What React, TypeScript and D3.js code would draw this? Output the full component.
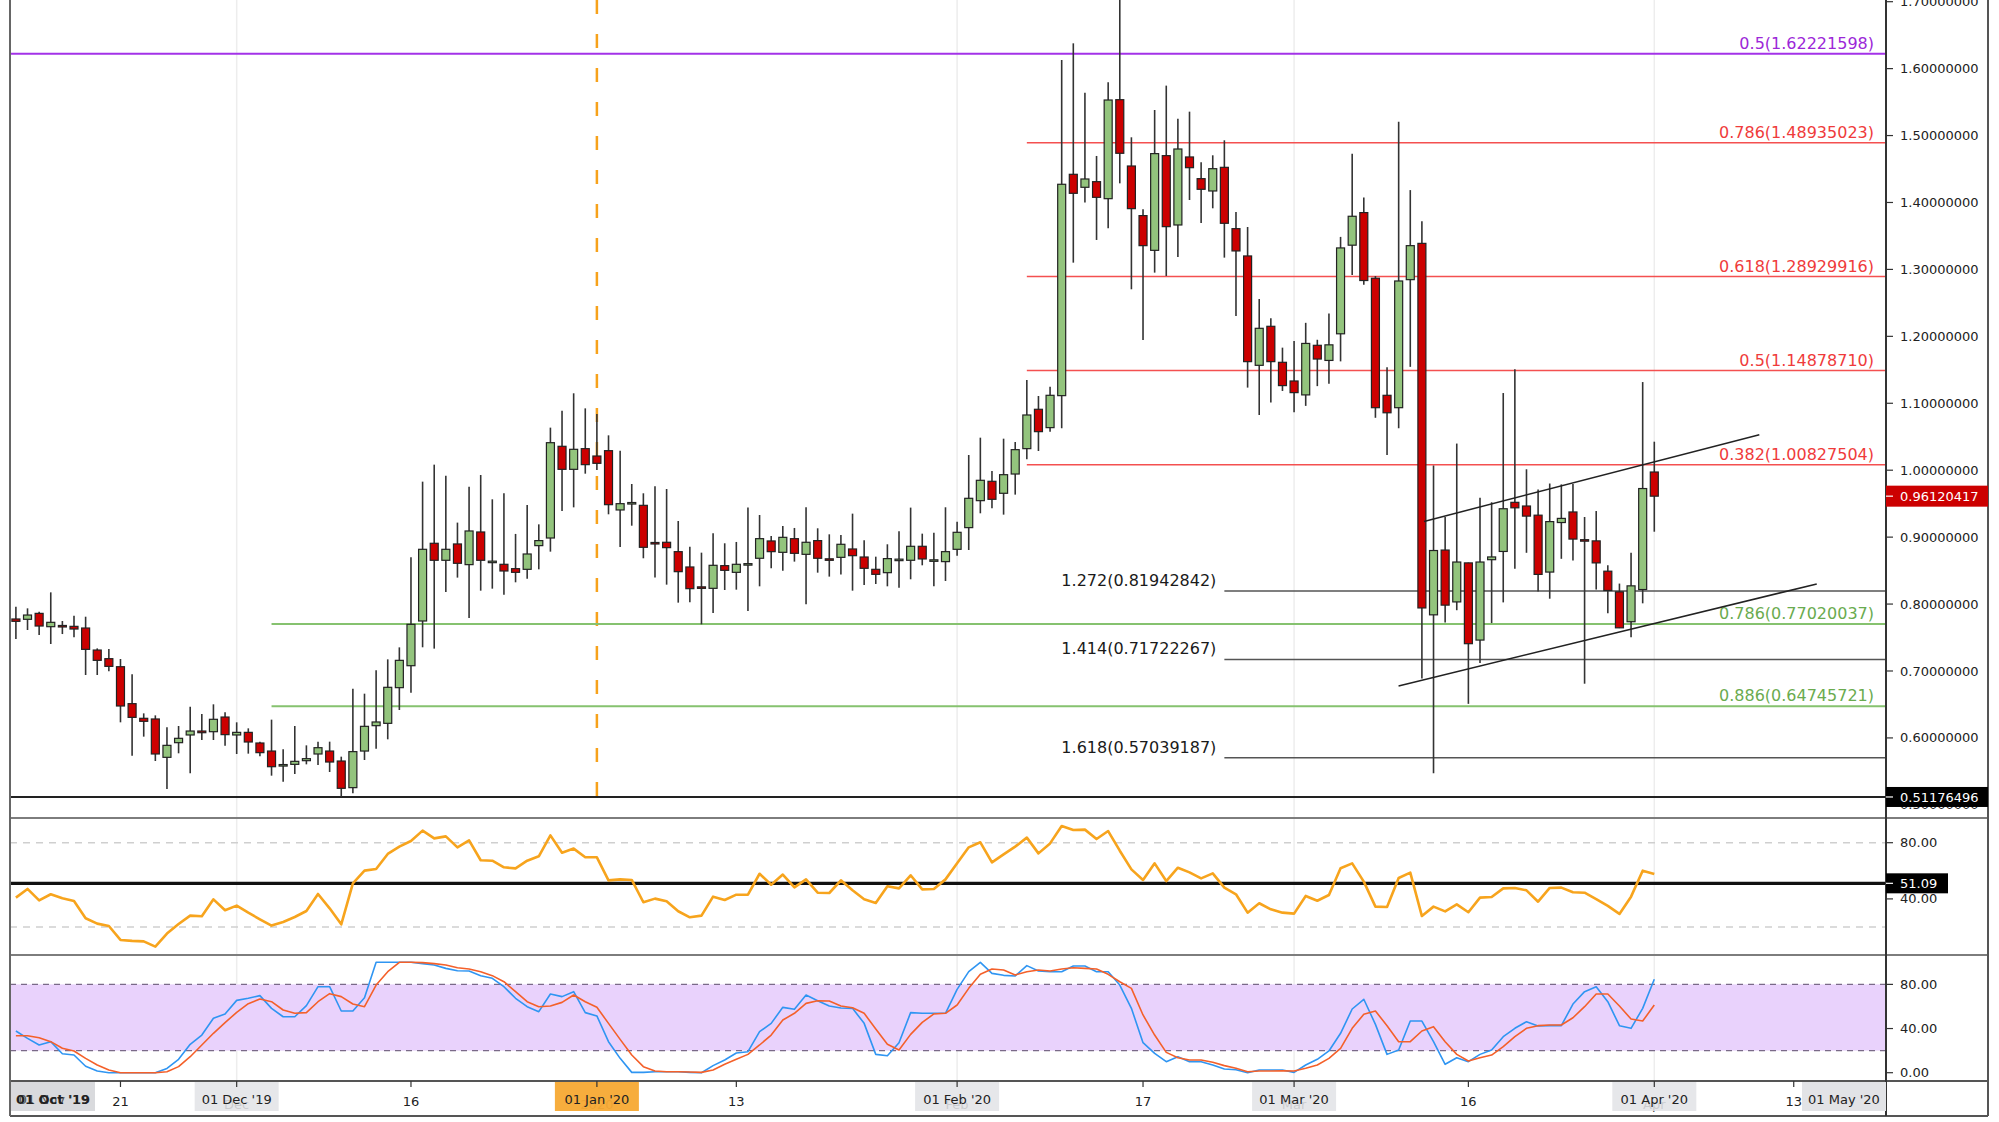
import React from "react";
import * as d3 from "d3";

// ---------- DATA ----------
const START = Date.UTC(2019, 10, 12); // first candle: 12 Nov 2019, daily to 01 Apr 2020

const opens = [
  0.7777, 0.7772, 0.7861, 0.7662, 0.7680, 0.7667, 0.7642, 0.7313, 0.7184, 0.7064,
  0.6512, 0.6293, 0.6283, 0.5710, 0.5929, 0.6044, 0.6103, 0.6093, 0.6312, 0.6044,
  0.6083, 0.5924, 0.5804, 0.5600, 0.5605, 0.5660, 0.5760, 0.5804, 0.5655, 0.5257,
  0.5804, 0.6183, 0.6218, 0.6751, 0.7079, 0.7747, 0.8908, 0.8654, 0.8898, 0.8589,
  0.9077, 0.8639, 0.8594, 0.8529, 0.8519, 0.8873, 0.8987, 1.0357, 1.0013, 1.0322,
  1.0212, 1.0292, 0.9406, 0.9515, 0.9475, 0.8920, 0.8923, 0.8783, 0.8554, 0.8257,
  0.8235, 0.8574, 0.8474, 0.8602, 0.8684, 0.8943, 0.8773, 0.8977, 0.8743, 0.8948,
  0.8676, 0.8698, 0.8823, 0.8703, 0.8519, 0.8469, 0.8669, 0.8654, 0.8863, 0.8659,
  0.8634, 0.8818, 0.9142, 0.9545, 0.9834, 0.9655, 0.9943, 1.0322, 1.0910, 1.0636,
  1.1114, 1.4421, 1.4227, 1.4311, 1.4057, 1.5536, 1.4545, 1.3804, 1.3285, 1.4700,
  1.3664, 1.4680, 1.4356, 1.4172, 1.4525, 1.3609, 1.3201, 1.1567, 1.2150, 1.1612,
  1.1333, 1.1125, 1.1866, 1.1640, 1.2038, 1.3362, 1.3849, 1.2868, 1.1119, 1.0934,
  1.2847, 1.3389, 0.7839, 0.8807, 0.8032, 0.8615, 0.7462, 0.8663, 0.8786, 0.9520,
  0.9465, 0.9328, 0.8478, 0.9218, 0.9376, 0.8962, 0.8944, 0.8491, 0.8182, 0.7736,
  0.8217, 0.9973,
];
const highs = [
  0.7961, 0.7936, 0.7886, 0.8175, 0.7747, 0.7826, 0.7811, 0.7338, 0.7328, 0.7179,
  0.6950, 0.6367, 0.6337, 0.6158, 0.6178, 0.6467, 0.6357, 0.6502, 0.6382, 0.6233,
  0.6143, 0.5944, 0.6273, 0.5829, 0.6178, 0.5889, 0.5944, 0.5944, 0.5720, 0.6736,
  0.6661, 0.7010, 0.7174, 0.7353, 0.8698, 0.9829, 1.0083, 0.9918, 0.9217, 0.9754,
  0.9928, 0.9565, 0.9654, 0.9048, 0.9480, 0.9191, 1.0636, 1.0890, 1.1149, 1.0924,
  1.0840, 1.0521, 1.0292, 0.9794, 0.9655, 0.9759, 0.9719, 0.9241, 0.8858, 0.8768,
  0.9057, 0.8908, 0.8928, 0.9441, 0.9331, 0.9017, 0.9167, 0.9137, 0.9446, 0.9132,
  0.9042, 0.9032, 0.9351, 0.8953, 0.8708, 0.8893, 0.9087, 0.9441, 0.9052, 0.9067,
  0.9446, 0.9231, 1.0227, 1.0486, 0.9988, 1.0471, 1.0421, 1.1348, 1.1109, 1.1248,
  1.6129, 1.6378, 1.5641, 1.4695, 1.5795, 1.7500, 1.4974, 1.3898, 1.5382, 1.5746,
  1.5252, 1.5357, 1.4600, 1.4705, 1.4929, 1.3858, 1.3634, 1.2558, 1.2270, 1.1831,
  1.1931, 1.2202, 1.1949, 1.2340, 1.3486, 1.4727, 1.4075, 1.2902, 1.1537, 1.5207,
  1.4185, 1.3719, 1.0069, 0.9301, 1.0398, 0.8620, 0.9589, 0.9521, 1.1153, 1.1510,
  1.0014, 0.9712, 0.9801, 0.9788, 0.9795, 0.9301, 0.9390, 0.8580, 0.8306, 0.8766,
  1.1317, 1.0426,
];
const lows = [
  0.7478, 0.7612, 0.7537, 0.7403, 0.7552, 0.7503, 0.6940, 0.6940, 0.6995, 0.6233,
  0.5735, 0.6019, 0.5655, 0.5237, 0.5770, 0.5471, 0.5969, 0.5969, 0.5884, 0.5760,
  0.5765, 0.5725, 0.5436, 0.5346, 0.5461, 0.5605, 0.5595, 0.5491, 0.5122, 0.5172,
  0.5670, 0.5839, 0.5979, 0.6417, 0.6676, 0.7354, 0.7334, 0.8180, 0.8395, 0.7792,
  0.8200, 0.8230, 0.8140, 0.8325, 0.8380, 0.8519, 0.8783, 0.9391, 0.9445, 0.9948,
  1.0003, 0.9341, 0.8853, 0.9171, 0.8684, 0.8395, 0.8290, 0.8021, 0.8026, 0.7697,
  0.7867, 0.8210, 0.8215, 0.7897, 0.8265, 0.8534, 0.8499, 0.8634, 0.7996, 0.8469,
  0.8410, 0.8440, 0.8200, 0.8285, 0.8300, 0.8265, 0.8245, 0.8370, 0.8579, 0.8265,
  0.8345, 0.8723, 0.8808, 0.9356, 0.9431, 0.9336, 0.9635, 1.0163, 1.0287, 1.0576,
  1.0626, 1.3101, 1.3998, 1.3440, 1.3614, 1.4286, 1.2703, 1.1946, 1.2952, 1.2902,
  1.3186, 1.4037, 1.3694, 1.3913, 1.3176, 1.2304, 1.1234, 1.0825, 1.1010, 1.1184,
  1.0865, 1.0961, 1.1256, 1.1290, 1.1626, 1.2916, 1.2772, 1.0783, 1.0227, 1.0625,
  1.1544, 0.6886, 0.5473, 0.7723, 0.7908, 0.6509, 0.7119, 0.7716, 0.8025, 0.8526,
  0.8766, 0.8189, 0.8080, 0.8676, 0.8649, 0.6810, 0.8217, 0.7861, 0.7641, 0.7503,
  0.8011, 0.9081,
];
const closes = [
  0.7742, 0.7836, 0.7672, 0.7727, 0.7675, 0.7627, 0.7323, 0.7159, 0.7069, 0.6477,
  0.6307, 0.6248, 0.5760, 0.5889, 0.5994, 0.6103, 0.6078, 0.6278, 0.6049, 0.6083,
  0.5939, 0.5780, 0.5570, 0.5602, 0.5650, 0.5690, 0.5854, 0.5640, 0.5247, 0.5795,
  0.6173, 0.6238, 0.6756, 0.7159, 0.7697, 0.8818, 0.8654, 0.8818, 0.8609, 0.9092,
  0.8654, 0.8641, 0.8494, 0.8474, 0.8748, 0.8948, 1.0411, 1.0013, 1.0312, 1.0083,
  1.0103, 0.9485, 0.9500, 0.9517, 0.8848, 0.8918, 0.8843, 0.8484, 0.8230, 0.8255,
  0.8579, 0.8504, 0.8594, 0.8604, 0.8977, 0.8783, 0.8997, 0.8758, 0.8923, 0.8684,
  0.8674, 0.8893, 0.8723, 0.8534, 0.8444, 0.8679, 0.8671, 0.8863, 0.8674, 0.8661,
  0.8783, 0.9072, 0.9580, 0.9849, 0.9565, 0.9933, 1.0307, 1.0825, 1.0576, 1.1119,
  1.4272, 1.4137, 1.4351, 1.4077, 1.5531, 1.4735, 1.3908, 1.3355, 1.4730, 1.3639,
  1.4799, 1.4520, 1.4197, 1.4505, 1.3689, 1.3276, 1.1622, 1.2120, 1.1622, 1.1264,
  1.1159, 1.1894, 1.1661, 1.1873, 1.3321, 1.3794, 1.2834, 1.0934, 1.0858, 1.2827,
  1.3355, 0.7942, 0.8800, 0.7984, 0.8628, 0.7408, 0.8628, 0.8704, 0.9424, 0.9438,
  0.9314, 0.8443, 0.9232, 0.9280, 0.8971, 0.8958, 0.8615, 0.8203, 0.7645, 0.8272,
  0.9726, 0.96120417,
];

const rsi = [
  40.9, 47.1, 39.0, 43.3, 40.4, 38.5, 26.2, 22.4, 20.7, 10.8,
  10.1, 9.8, 6.0, 15.3, 22.1, 28.1, 27.6, 39.7, 31.9, 35.2,
  30.2, 25.5, 21.0, 23.6, 27.1, 31.4, 43.5, 33.3, 21.9, 51.1,
  60.1, 61.3, 72.0, 77.2, 81.2, 88.6, 83.1, 84.5, 76.7, 81.7,
  67.5, 67.2, 62.5, 61.7, 67.2, 70.3, 85.2, 72.9, 75.8, 69.6,
  69.6, 53.2, 53.9, 53.5, 37.6, 40.2, 38.3, 31.2, 26.9, 28.1,
  41.6, 39.2, 43.0, 43.0, 57.9, 50.1, 57.3, 48.2, 53.9, 44.4,
  44.2, 53.2, 46.1, 39.7, 37.1, 49.0, 47.5, 56.8, 46.8, 47.1,
  53.9, 65.3, 76.7, 80.3, 66.0, 71.7, 77.2, 83.6, 72.4, 79.5,
  91.9, 89.0, 89.3, 82.6, 88.3, 74.3, 61.0, 53.5, 65.3, 52.7,
  62.2, 58.9, 54.6, 58.2, 48.0, 43.3, 30.2, 36.9, 32.6, 30.2,
  29.5, 42.1, 38.7, 42.8, 61.8, 65.3, 52.3, 34.5, 34.2, 54.9,
  58.7, 27.8, 34.5, 31.1, 36.1, 30.5, 40.9, 41.4, 47.5, 47.8,
  46.1, 38.0, 47.8, 48.0, 44.7, 44.4, 39.9, 35.0, 29.3, 41.6,
  60.1, 57.7,
];
const stochK = [
  37.8, 31.1, 25.1, 28.1, 17.2, 16.0, 5.8, 1.5, 0, 0,
  0, 0, 0, 3.9, 12.1, 25.7, 34.1, 49.3, 53.2, 65.5,
  67.4, 69.8, 58.3, 50.7, 50.7, 60.7, 77.9, 77.9, 55.9, 55.9,
  67.9, 100, 100, 100, 100, 98.8, 97.5, 94.5, 92.4, 92.1,
  87.9, 85.5, 77.9, 67.4, 59.8, 55.3, 71.3, 68.9, 73.4, 54.4,
  51.4, 28.1, 13.0, 0.3, 0.3, 0.9, 0.9, 0.9, 0.3, 0,
  6.4, 11.5, 17.8, 19.0, 37.2, 44.7, 59.2, 57.4, 70.4, 65.2,
  60.4, 58.6, 58.3, 44.7, 16.6, 15.4, 27.2, 54.4, 53.8, 53.8,
  53.8, 75.5, 91.5, 100, 90.0, 88.2, 87.6, 97.0, 92.1, 91.5,
  91.5, 96.6, 96.6, 91.5, 91.5, 79.4, 58.3, 27.2, 17.5, 10.0,
  14.5, 10.0, 10.0, 7.0, 3.3, 2.7, 0, 2.4, 2.4, 2.4,
  0.3, 7.0, 12.1, 19.7, 35.7, 57.7, 66.5, 43.8, 16.6, 20.6,
  46.8, 46.8, 28.1, 7.6, 13.6, 10.0, 16.6, 20.6, 32.6, 40.2,
  46.2, 42.3, 42.6, 42.6, 62.2, 73.4, 77.9, 64.3, 42.6, 40.2,
  58.3, 84.6,
];
const stochD = [
  33.5, 33.5, 31.7, 28.1, 22.1, 19.7, 13.0, 7.0, 2.4, 0,
  0, 0, 0, 0.9, 5.5, 14.5, 25.1, 35.7, 45.3, 54.7,
  62.5, 66.7, 64.3, 56.8, 53.8, 54.4, 64.3, 71.6, 68.9, 62.2,
  59.8, 79.4, 91.5, 100, 100, 99.7, 98.8, 97.5, 95.1, 93.9,
  91.5, 87.9, 82.4, 73.4, 64.3, 59.8, 60.4, 63.7, 70.4, 64.3,
  59.2, 44.7, 30.2, 16.0, 5.5, 1.5, 0.9, 0.9, 0.6, 0.3,
  2.4, 7.6, 12.1, 16.6, 25.1, 34.1, 47.7, 53.8, 62.8, 65.2,
  64.9, 60.4, 58.9, 53.8, 39.6, 25.7, 20.6, 34.7, 45.6, 53.2,
  53.8, 61.3, 76.4, 89.1, 93.9, 93.0, 88.5, 91.5, 93.0, 92.1,
  93.9, 95.1, 94.5, 93.9, 89.1, 82.4, 76.4, 52.3, 34.1, 18.4,
  13.6, 11.5, 11.5, 9.4, 6.4, 4.0, 0.9, 1.5, 1.5, 1.8,
  1.5, 4.0, 7.0, 13.0, 22.1, 40.2, 52.9, 55.9, 42.6, 28.1,
  28.1, 37.8, 41.7, 28.1, 16.6, 10.6, 13.6, 16.0, 23.6, 32.6,
  40.2, 42.6, 43.2, 43.2, 49.8, 59.8, 71.3, 71.3, 60.4, 48.6,
  46.8, 61.3,
];

const priceTicks = [0.5, 0.6, 0.7, 0.8, 0.9, 1.0, 1.1, 1.2, 1.3, 1.4, 1.5, 1.6, 1.7];
const rsiTicks = [80, 40];
const stochTicks = [80, 40, 0];
const rsiLevel = 51.09;
const lastPrice = 0.96120417;
const lowLine = 0.51176496;

const purpleFibRatios = ["0.5"];
const purpleFibValues = [1.62221598];
const redFibRatios = ["0.786", "0.618", "0.5", "0.382"];
const redFibValues = [1.48935023, 1.28929916, 1.1487871, 1.00827504];
const blackFibRatios = ["1.272", "1.414", "1.618"];
const blackFibValues = [0.81942842, 0.71722267, 0.57039187];
const greenFibRatios = ["0.786", "0.886"];
const greenFibValues = [0.77020037, 0.64745721];
const redFibStart = 87;
const blackFibStart = 104;
const greenFibStart = 22;

// trend channel: [candle index, price]
const channelUpper = [[121.18, 0.9235], [150.04, 1.053]];
const channelLower = [[118.99, 0.6777], [154.98, 0.8301]];

const dayTickDates = ["2019-11-21", "2019-12-16", "2020-01-13", "2020-02-17", "2020-03-16", "2020-04-13"];
const dayTickLabels = ["21", "16", "13", "17", "16", "13"];
const monthTickDates = ["2019-12-01", "2020-01-01", "2020-02-01", "2020-03-01", "2020-04-01"];
const monthTickLabels = ["01 Dec '19", "01 Jan '20", "01 Feb '20", "01 Mar '20", "01 Apr '20"];
const monthGhostLabels = ["Dec", "2020", "Feb", "Mar", "Apr"];
const edgeLeftDates = ["2019-10-01", "2019-11-01"];
const edgeLeftLabels = ["01 Oct '19", "01 Nov '19"];
const edgeRightDate = "2020-05-01";
const edgeRightLabel = "01 May '20";
const jan1 = "2020-01-01";

// ---------- LAYOUT ----------
const W = 1999;
const H = 1122;
const LEFT = 10;
const AXIS_X = 1886;
const RIGHT = 1988;
const MAIN_TOP = 0;
const MAIN_BOTTOM = 818;
const RSI_BOTTOM = 955;
const ST_BOTTOM = 1081;
const BOTTOM = 1116;
const FONT = "DejaVu Sans, Verdana, sans-serif";

const N = opens.length;
const xIdx = d3.scaleLinear().domain([0, N - 1]).range([15.9, 1654.3]);
const y = d3.scaleLinear().domain([0.48035, 1.70253]).range([MAIN_BOTTOM, MAIN_TOP]);
const yR = d3.scaleLinear().domain([0, 100]).range([955.1, 814.6]);
const yS = d3.scaleLinear().domain([0, 100]).range([1072.7, 962.3]);

const parseDay = (s: string) => {
  const [a, b, c] = s.split("-").map(Number);
  return new Date(Date.UTC(a, b - 1, c));
};
const dateX = (s: string) => xIdx(d3.utcDay.count(new Date(START), parseDay(s)));

export default function App() {
  const rsiLine = d3.line<number>().x((_, i) => xIdx(i)).y((v) => yR(v))(rsi) || "";
  const kLine = d3.line<number>().x((_, i) => xIdx(i)).y((v) => yS(v))(stochK) || "";
  const dLine = d3.line<number>().x((_, i) => xIdx(i)).y((v) => yS(v))(stochD) || "";

  const fibLabel = (ratio: string, val: number) => `${ratio}(${val.toFixed(8)})`;
  const boxW = 84;
  const leftBoxX = Math.max(LEFT + 1, dateX(edgeLeftDates[0]) - boxW / 2);
  const rightBoxX = Math.min(AXIS_X, dateX(edgeRightDate) + boxW / 2) - boxW;
  const FIB_FS = 16;

  return (
    <div style={{ position: "absolute", left: 0, top: 0 }}>
      <svg width={W} height={H} style={{ display: "block", background: "#fff" }} fontFamily={FONT}>
        <defs>
          <clipPath id="mainClip">
            <rect x={LEFT} y={MAIN_TOP} width={AXIS_X - LEFT} height={MAIN_BOTTOM - MAIN_TOP} />
          </clipPath>
          <clipPath id="lowerClip">
            <rect x={LEFT} y={MAIN_BOTTOM} width={AXIS_X - LEFT} height={ST_BOTTOM - MAIN_BOTTOM} />
          </clipPath>
        </defs>

        {/* vertical month gridlines */}
        {monthTickDates.filter((d) => d !== jan1).map((d) => (
          <line key={d} x1={dateX(d)} x2={dateX(d)} y1={MAIN_TOP} y2={ST_BOTTOM} stroke="#ededed" strokeWidth={1.5} />
        ))}

        {/* stoch band */}
        <rect x={LEFT} y={yS(80)} width={AXIS_X - LEFT} height={yS(20) - yS(80)} fill="#e9d2fc" />
        {[80, 20].map((v) => (
          <line key={"sd" + v} x1={LEFT} x2={AXIS_X} y1={yS(v)} y2={yS(v)} stroke="#7a6a88" strokeWidth={1.3} strokeDasharray="6 5" />
        ))}
        {[80, 20].map((v) => (
          <line key={"rd" + v} x1={LEFT} x2={AXIS_X} y1={yR(v)} y2={yR(v)} stroke="#cfcfcf" strokeWidth={1.6} strokeDasharray="7 6" />
        ))}

        <g clipPath="url(#mainClip)">
          {/* Jan 1 dashed orange line */}
          <line x1={dateX(jan1)} x2={dateX(jan1)} y1={MAIN_TOP} y2={MAIN_BOTTOM - 10} stroke="#f7a21b" strokeWidth={2.5} strokeDasharray="14 20" />

          {/* fib levels */}
          {purpleFibValues.map((v, i) => (
            <g key={"p" + i}>
              <line x1={LEFT} x2={AXIS_X} y1={y(v)} y2={y(v)} stroke="#a332e8" strokeWidth={2} />
              <text x={1874} y={y(v) - 5} textAnchor="end" fontSize={FIB_FS} fill="#9c27d8">{fibLabel(purpleFibRatios[i], v)}</text>
            </g>
          ))}
          {redFibValues.map((v, i) => (
            <g key={"r" + i}>
              <line x1={xIdx(redFibStart)} x2={AXIS_X} y1={y(v)} y2={y(v)} stroke="#f45050" strokeWidth={1.5} />
              <text x={1874} y={y(v) - 5} textAnchor="end" fontSize={FIB_FS} fill="#ef3b3b">{fibLabel(redFibRatios[i], v)}</text>
            </g>
          ))}
          {greenFibValues.map((v, i) => (
            <g key={"g" + i}>
              <line x1={xIdx(greenFibStart)} x2={AXIS_X} y1={y(v)} y2={y(v)} stroke="#86c26f" strokeWidth={2} />
              <text x={1874} y={y(v) - 5} textAnchor="end" fontSize={FIB_FS} fill="#6aab4f">{fibLabel(greenFibRatios[i], v)}</text>
            </g>
          ))}
          {blackFibValues.map((v, i) => (
            <g key={"b" + i}>
              <line x1={xIdx(blackFibStart)} x2={AXIS_X} y1={y(v)} y2={y(v)} stroke="#555" strokeWidth={1.5} />
              <text x={xIdx(blackFibStart) - 8} y={y(v) - 5} textAnchor="end" fontSize={FIB_FS} fill="#1a1a1a">{fibLabel(blackFibRatios[i], v)}</text>
            </g>
          ))}

          {/* low horizontal line */}
          <line x1={LEFT} x2={AXIS_X} y1={y(lowLine)} y2={y(lowLine)} stroke="#222" strokeWidth={2} />

          {/* candles */}
          {opens.map((o, i) => {
            const c = closes[i];
            const up = c >= o;
            const cx = xIdx(i);
            const top = y(Math.max(o, c));
            const bot = y(Math.min(o, c));
            const h = Math.max(bot - top, 1.5);
            return (
              <g key={"c" + i}>
                <line x1={cx} x2={cx} y1={y(highs[i])} y2={y(lows[i])} stroke="#333" strokeWidth={1.6} />
                <rect x={cx - 4} y={top} width={8} height={h} fill={up ? "#93c47d" : "#cc0000"} stroke="#222" strokeWidth={1.2} />
              </g>
            );
          })}

          {/* channel */}
          {[channelUpper, channelLower].map((seg, k) => (
            <line key={"ch" + k} x1={xIdx(seg[0][0])} y1={y(seg[0][1])} x2={xIdx(seg[1][0])} y2={y(seg[1][1])} stroke="#222" strokeWidth={1.5} />
          ))}
        </g>

        <g clipPath="url(#lowerClip)">
          {/* RSI */}
          <line x1={LEFT} x2={AXIS_X} y1={yR(rsiLevel)} y2={yR(rsiLevel)} stroke="#111" strokeWidth={3.2} />
          <path d={rsiLine} fill="none" stroke="#f7a41d" strokeWidth={2.6} strokeLinejoin="round" />
          {/* Stoch */}
          <path d={kLine} fill="none" stroke="#2f95f2" strokeWidth={1.6} strokeLinejoin="round" />
          <path d={dLine} fill="none" stroke="#f4602a" strokeWidth={1.6} strokeLinejoin="round" />
        </g>

        {/* pane separators and frame */}
        <line x1={LEFT} x2={RIGHT} y1={MAIN_BOTTOM} y2={MAIN_BOTTOM} stroke="#7d7d7d" strokeWidth={2.2} />
        <line x1={LEFT} x2={RIGHT} y1={RSI_BOTTOM} y2={RSI_BOTTOM} stroke="#7d7d7d" strokeWidth={2.2} />
        <line x1={LEFT} x2={RIGHT} y1={ST_BOTTOM} y2={ST_BOTTOM} stroke="#555" strokeWidth={2} />
        <line x1={LEFT} x2={RIGHT} y1={BOTTOM} y2={BOTTOM} stroke="#555" strokeWidth={2} />
        <line x1={LEFT} x2={LEFT} y1={0} y2={BOTTOM} stroke="#666" strokeWidth={2} />
        <line x1={AXIS_X} x2={AXIS_X} y1={0} y2={BOTTOM} stroke="#333" strokeWidth={2} />
        <line x1={RIGHT} x2={RIGHT} y1={0} y2={BOTTOM} stroke="#555" strokeWidth={2} />

        {/* price axis */}
        {priceTicks.map((p) => (
          <g key={"pt" + p}>
            <line x1={AXIS_X} x2={AXIS_X + 7} y1={y(p)} y2={y(p)} stroke="#333" strokeWidth={1.2} />
            <text x={1900} y={y(p)} dy="0.35em" fontSize={13} fill="#222">{p.toFixed(8)}</text>
          </g>
        ))}
        <rect x={AXIS_X} y={y(lastPrice) - 10.5} width={RIGHT - AXIS_X} height={21} fill="#cc0000" />
        <line x1={AXIS_X} x2={AXIS_X + 7} y1={y(lastPrice)} y2={y(lastPrice)} stroke="#fff" strokeWidth={1.2} />
        <text x={1900} y={y(lastPrice)} dy="0.35em" fontSize={13} fill="#fff">{lastPrice.toFixed(8)}</text>
        <rect x={AXIS_X} y={y(lowLine) - 10} width={RIGHT - AXIS_X} height={20} fill="#000" />
        <line x1={AXIS_X} x2={AXIS_X + 7} y1={y(lowLine)} y2={y(lowLine)} stroke="#fff" strokeWidth={1.2} />
        <text x={1900} y={y(lowLine)} dy="0.35em" fontSize={13} fill="#fff">{lowLine.toFixed(8)}</text>

        {/* RSI axis */}
        {rsiTicks.map((v) => (
          <g key={"rt" + v}>
            <line x1={AXIS_X} x2={AXIS_X + 7} y1={yR(v)} y2={yR(v)} stroke="#333" strokeWidth={1.2} />
            <text x={1900} y={yR(v)} dy="0.35em" fontSize={13} fill="#222">{v.toFixed(2)}</text>
          </g>
        ))}
        <rect x={AXIS_X} y={yR(rsiLevel) - 10} width={62} height={20} fill="#000" />
        <line x1={AXIS_X} x2={AXIS_X + 7} y1={yR(rsiLevel)} y2={yR(rsiLevel)} stroke="#fff" strokeWidth={1.2} />
        <text x={1900} y={yR(rsiLevel)} dy="0.35em" fontSize={13} fill="#fff">{rsiLevel.toFixed(2)}</text>

        {/* Stoch axis */}
        {stochTicks.map((v) => (
          <g key={"st" + v}>
            <line x1={AXIS_X} x2={AXIS_X + 7} y1={yS(v)} y2={yS(v)} stroke="#333" strokeWidth={1.2} />
            <text x={1900} y={yS(v)} dy="0.35em" fontSize={13} fill="#222">{v.toFixed(2)}</text>
          </g>
        ))}

        {/* time axis */}
        {dayTickDates.map((d, i) => (
          <g key={"dt" + d}>
            <line x1={dateX(d)} x2={dateX(d)} y1={ST_BOTTOM} y2={ST_BOTTOM + 6} stroke="#333" strokeWidth={1.2} />
            <text x={dateX(d)} y={1101} dy="0.35em" textAnchor="middle" fontSize={13} fill="#222">{dayTickLabels[i]}</text>
          </g>
        ))}
        {monthTickDates.map((d, i) => {
          const cx = dateX(d);
          const isJan = d === jan1;
          return (
            <g key={"mt" + d}>
              <text x={cx} y={1104} dy="0.35em" textAnchor="middle" fontSize={13} fill="#444">{monthGhostLabels[i]}</text>
              <rect x={cx - 42} y={ST_BOTTOM + 1} width={boxW} height={29} fill={isJan ? "#f7a933" : "#e2e3e6"} opacity={isJan ? 0.95 : 0.85} />
              <line x1={cx} x2={cx} y1={ST_BOTTOM} y2={ST_BOTTOM + 6} stroke="#333" strokeWidth={1.2} />
              <text x={cx} y={1099} dy="0.35em" textAnchor="middle" fontSize={13} fill="#222">{monthTickLabels[i]}</text>
            </g>
          );
        })}
        <rect x={leftBoxX} y={ST_BOTTOM + 1} width={boxW} height={29} fill="#d9dadd" />
        <text x={leftBoxX + boxW / 2 + 1} y={1099} dy="0.35em" textAnchor="middle" fontSize={13} fill="#555">{edgeLeftLabels[1]}</text>
        <text x={leftBoxX + boxW / 2} y={1099} dy="0.35em" textAnchor="middle" fontSize={13} fontWeight="bold" fill="#222">{edgeLeftLabels[0]}</text>
        <rect x={rightBoxX} y={ST_BOTTOM + 1} width={boxW} height={29} fill="#e2e3e6" />
        <text x={rightBoxX + boxW / 2} y={1099} dy="0.35em" textAnchor="middle" fontSize={13} fill="#222">{edgeRightLabel}</text>
      </svg>
    </div>
  );
}
